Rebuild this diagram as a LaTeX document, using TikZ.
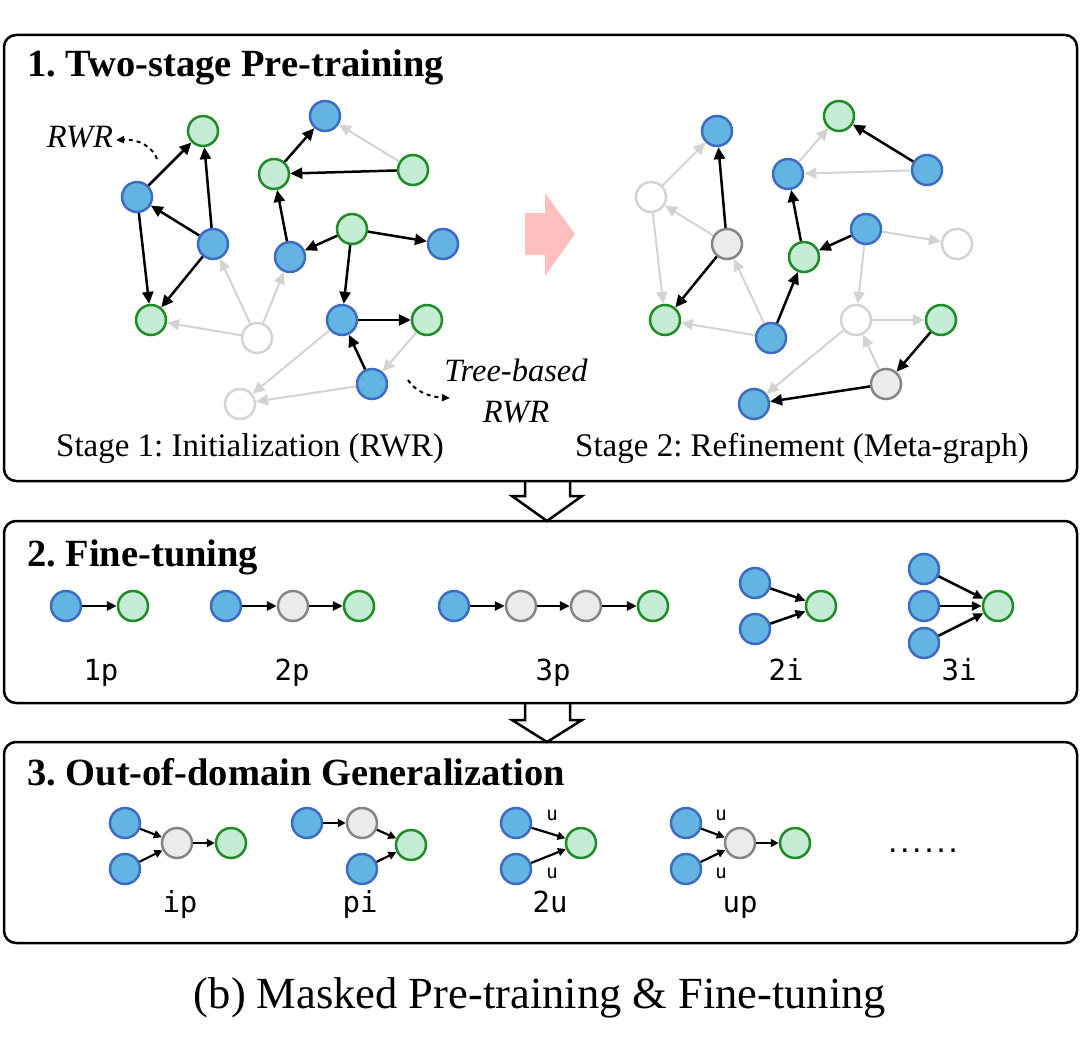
\documentclass[tikz,border=0pt]{standalone}
\usepackage{fontspec}
\setmainfont{Liberation Serif}
\setmonofont{DejaVu Sans Mono}
\usepackage{xcolor}
\usepackage{tikz}
\usetikzlibrary{arrows.meta}
\frenchspacing

\definecolor{nodeblue}{HTML}{63B3E3}
\definecolor{nodeblueline}{HTML}{3D6CC0}
\definecolor{nodegreen}{HTML}{C4EBD4}
\definecolor{nodegreenline}{HTML}{1E8B24}
\definecolor{nodegray}{HTML}{EBEBEB}
\definecolor{nodegrayline}{HTML}{858585}
\definecolor{edgegray}{HTML}{D3D3D3}
\definecolor{arrowpink}{HTML}{FFBFBF}

\newcommand{\ttlfont}{\fontsize{38.5}{44}\selectfont\bfseries}
\newcommand{\stgfont}{\fontsize{33}{38}\selectfont}
\newcommand{\rwrfont}{\fontsize{32.5}{38}\selectfont\itshape}
\newcommand{\lblfont}{\fontsize{29}{32}\selectfont\ttfamily}
\newcommand{\ufont}{\fontsize{19}{21}\selectfont\ttfamily}
\newcommand{\capfont}{\fontsize{44.5}{50}\selectfont}

\tikzset{
  bnode/.style={circle, draw=nodeblueline, fill=nodeblue, line width=2.5pt, minimum size=30pt, inner sep=0pt},
  gnode/.style={circle, draw=nodegreenline, fill=nodegreen, line width=2.5pt, minimum size=30pt, inner sep=0pt},
  xnode/.style={circle, draw=nodegrayline, fill=nodegray, line width=2.5pt, minimum size=30pt, inner sep=0pt},
  wnode/.style={circle, draw=edgegray, fill=white, line width=2.5pt, minimum size=30pt, inner sep=0pt},
  blk/.style={-{Triangle[length=12pt,width=11pt]}, line width=2.5pt},
  lgt/.style={-{Triangle[length=12pt,width=11pt]}, line width=2pt, draw=edgegray},
  fblk/.style={-{Triangle[length=10pt,width=9pt]}, line width=2.5pt},
  oblk/.style={-{Triangle[length=8pt,width=8pt]}, line width=2.2pt},
  hint/.style={-{Triangle[length=8pt,width=7pt]}, line width=2pt, dash pattern=on 4pt off 4pt},
  panel/.style={draw, line width=2.5pt, rounded corners=12pt},
}

\begin{document}
\begin{tikzpicture}[x=1pt,y=1pt,yscale=-1,xscale=1]

\useasboundingbox (0,0) rectangle (1080,1049);

\fill [arrowpink] (525,213) -- (545,213) -- (545,193) -- (575,234) -- (545,276) -- (545,255) -- (525,255) -- cycle;

\draw [line width=2.5pt, fill=white] (525,481) -- (525,496) -- (512,496) -- (547,521) -- (582,496) -- (570,496) -- (570,481);

\draw [line width=2.5pt, fill=white] (525,703) -- (525,720) -- (512,720) -- (547,742) -- (582,720) -- (570,720) -- (570,703);

\draw [panel] (4,35) rectangle (1077,481);

\draw [panel] (4,521) rectangle (1077,703);

\draw [panel] (4,742) rectangle (1077,943);


\draw (27,77) node [anchor=base west][inner sep=0pt][font=\ttlfont] (ttlA) {1. Two-stage Pre-training};

\draw (27,566) node [anchor=base west][inner sep=0pt][font=\ttlfont] (ttlB) {2. Fine-tuning};

\draw (27,785) node [anchor=base west][inner sep=0pt][font=\ttlfont] (ttlC) {3. Out-of-domain Generalization};

\draw (250,456) node [anchor=base][inner sep=0pt][font=\stgfont] (stgA) {Stage 1: Initialization (RWR)};

\draw (802,456) node [anchor=base][inner sep=0pt][font=\stgfont] (stgB) {Stage 2: Refinement (Meta-graph)};

\draw (80,147) node [anchor=base][inner sep=0pt][font=\rwrfont] (rwrA) {RWR};

\draw (516,381) node [anchor=base][inner sep=0pt][font=\rwrfont] (treeA) {Tree-based};

\draw (516,422) node [anchor=base][inner sep=0pt][font=\rwrfont] (treeB) {RWR};

\draw (540,1008) node [anchor=base][inner sep=0pt][font=\capfont] (capA) {(b) Masked Pre-training \& Fine-tuning};


% stage 1
\node [gnode] (sG1) at (203,131) {};
\node [bnode] (sB1) at (137,197) {};
\node [bnode] (sB2) at (213,244) {};
\node [gnode] (sG2) at (151,320) {};
\node [wnode] (sW1) at (257,338) {};
\node [bnode] (sB3) at (325,116) {};
\node [gnode] (sG3) at (274,174) {};
\node [gnode] (sG4) at (413,170) {};
\node [bnode] (sB4) at (290,257) {};
\node [gnode] (sG5) at (352,229) {};
\node [bnode] (sB5) at (443,244) {};
\node [bnode] (sB6) at (342,320) {};
\node [gnode] (sG6) at (427,320) {};
\node [bnode] (sB7) at (372,384) {};
\node [wnode] (sW2) at (240,404) {};

\draw [lgt] (sG4) -- (sB3);
\draw [lgt] (sW1) -- (sB2);
\draw [lgt] (sW1) -- (sG2);
\draw [lgt] (sW1) -- (sB4);
\draw [lgt] (sB6) -- (sW2);
\draw [lgt] (sG6) -- (sB7);
\draw [lgt] (sB7) -- (sW2);

\draw [blk] (sB1) -- (sG1);
\draw [blk] (sB2) -- (sG1);
\draw [blk] (sB2) -- (sB1);
\draw [blk] (sB1) -- (sG2);
\draw [blk] (sB2) -- (sG2);
\draw [blk] (sG3) -- (sB3);
\draw [blk] (sG4) -- (sG3);
\draw [blk] (sB4) -- (sG3);
\draw [blk] (sG5) -- (sB4);
\draw [blk] (sG5) -- (sB5);
\draw [blk] (sG5) -- (sB6);
\draw [blk] (sB6) -- (sG6);
\draw [blk] (sB7) -- (sB6);

\coordinate (rwrS) at (157,159);
\coordinate (rwrE) at (116,140);
\draw [hint] (rwrS) .. controls (152,146) and (138,139) .. (rwrE);

\coordinate (treeS) at (408,380);
\coordinate (treeE) at (450,398);
\draw [hint] (treeS) .. controls (414,390) and (428,397) .. (treeE);


% stage 2
\node [bnode] (tB1) at (717,131) {};
\node [wnode] (tW1) at (651,197) {};
\node [xnode] (tX1) at (727,244) {};
\node [gnode] (tG1) at (665,320) {};
\node [bnode] (tB2) at (771,338) {};
\node [gnode] (tG2) at (839,116) {};
\node [bnode] (tB3) at (788,174) {};
\node [bnode] (tB4) at (927,170) {};
\node [gnode] (tG3) at (804,257) {};
\node [bnode] (tB5) at (866,229) {};
\node [wnode] (tW2) at (957,244) {};
\node [wnode] (tW3) at (856,320) {};
\node [gnode] (tG4) at (941,320) {};
\node [xnode] (tX2) at (886,384) {};
\node [bnode] (tB6) at (754,404) {};

\draw [lgt] (tW1) -- (tB1);
\draw [lgt] (tX1) -- (tW1);
\draw [lgt] (tW1) -- (tG1);
\draw [lgt] (tB2) -- (tX1);
\draw [lgt] (tB2) -- (tG1);
\draw [lgt] (tB3) -- (tG2);
\draw [lgt] (tB4) -- (tB3);
\draw [lgt] (tB5) -- (tW2);
\draw [lgt] (tB5) -- (tW3);
\draw [lgt] (tW3) -- (tG4);
\draw [lgt] (tX2) -- (tW3);
\draw [lgt] (tW3) -- (tB6);

\draw [blk] (tX1) -- (tB1);
\draw [blk] (tX1) -- (tG1);
\draw [blk] (tB2) -- (tG3);
\draw [blk] (tG3) -- (tB3);
\draw [blk] (tB5) -- (tG3);
\draw [blk] (tB4) -- (tG2);
\draw [blk] (tG4) -- (tX2);
\draw [blk] (tX2) -- (tB6);


% fine-tuning
\node [bnode] (fa1) at (66,606) {};
\node [gnode] (fa2) at (133,606) {};
\draw [fblk] (fa1) -- (fa2);

\node [bnode] (fb1) at (226,606) {};
\node [xnode] (fb2) at (293,606) {};
\node [gnode] (fb3) at (359,606) {};
\draw [fblk] (fb1) -- (fb2);
\draw [fblk] (fb2) -- (fb3);

\node [bnode] (fc1) at (454,606) {};
\node [xnode] (fc2) at (521,606) {};
\node [xnode] (fc3) at (586,606) {};
\node [gnode] (fc4) at (653,606) {};
\draw [fblk] (fc1) -- (fc2);
\draw [fblk] (fc2) -- (fc3);
\draw [fblk] (fc3) -- (fc4);

\node [bnode] (fd1) at (755,583) {};
\node [bnode] (fd2) at (755,629) {};
\node [gnode] (fd3) at (821,606) {};
\draw [fblk] (fd1) -- (fd3);
\draw [fblk] (fd2) -- (fd3);

\node [bnode] (fe1) at (924,569) {};
\node [bnode] (fe2) at (924,606) {};
\node [bnode] (fe3) at (924,643) {};
\node [gnode] (fe4) at (998,606) {};
\draw [fblk] (fe1) -- (fe4);
\draw [fblk] (fe2) -- (fe4);
\draw [fblk] (fe3) -- (fe4);

\draw (101,680) node [anchor=base][inner sep=0pt][font=\lblfont] (lfa) {1p};
\draw (292,680) node [anchor=base][inner sep=0pt][font=\lblfont] (lfb) {2p};
\draw (553,680) node [anchor=base][inner sep=0pt][font=\lblfont] (lfc) {3p};
\draw (786,680) node [anchor=base][inner sep=0pt][font=\lblfont] (lfd) {2i};
\draw (959,680) node [anchor=base][inner sep=0pt][font=\lblfont] (lfe) {3i};


% out-of-domain
\node [bnode] (ga1) at (125,823) {};
\node [bnode] (ga2) at (125,869) {};
\node [xnode] (ga3) at (177,843) {};
\node [gnode] (ga4) at (231,843) {};
\draw [oblk] (ga1) -- (ga3);
\draw [oblk] (ga2) -- (ga3);
\draw [oblk] (ga3) -- (ga4);

\node [bnode] (gb1) at (307,823) {};
\node [xnode] (gb2) at (362,823) {};
\node [gnode] (gb3) at (411,845) {};
\node [bnode] (gb4) at (362,869) {};
\draw [oblk] (gb1) -- (gb2);
\draw [oblk] (gb2) -- (gb3);
\draw [oblk] (gb4) -- (gb3);

\node [bnode] (gc1) at (516,823) {};
\node [bnode] (gc2) at (516,869) {};
\node [gnode] (gc3) at (581,843) {};
\draw [oblk] (gc1) -- (gc3);
\draw [oblk] (gc2) -- (gc3);

\node [bnode] (gd1) at (686,823) {};
\node [bnode] (gd2) at (686,869) {};
\node [xnode] (gd3) at (740,843) {};
\node [gnode] (gd4) at (795,843) {};
\draw [oblk] (gd1) -- (gd3);
\draw [oblk] (gd2) -- (gd3);
\draw [oblk] (gd3) -- (gd4);

\draw (552,820) node [anchor=base][inner sep=0pt][font=\ufont] (uca) {u};
\draw (552,878) node [anchor=base][inner sep=0pt][font=\ufont] (ucb) {u};
\draw (721,820) node [anchor=base][inner sep=0pt][font=\ufont] (uda) {u};
\draw (721,878) node [anchor=base][inner sep=0pt][font=\ufont] (udb) {u};

\draw (180,912) node [anchor=base][inner sep=0pt][font=\lblfont] (lga) {ip};
\draw (360,912) node [anchor=base][inner sep=0pt][font=\lblfont] (lgb) {pi};
\draw (550,912) node [anchor=base][inner sep=0pt][font=\lblfont] (lgc) {2u};
\draw (740,912) node [anchor=base][inner sep=0pt][font=\lblfont] (lgd) {up};

\draw (923,852) node [anchor=base][inner sep=0pt][font=\fontsize{20}{24}\selectfont\ttfamily\bfseries] (dots) {......};

\end{tikzpicture}
\end{document}
